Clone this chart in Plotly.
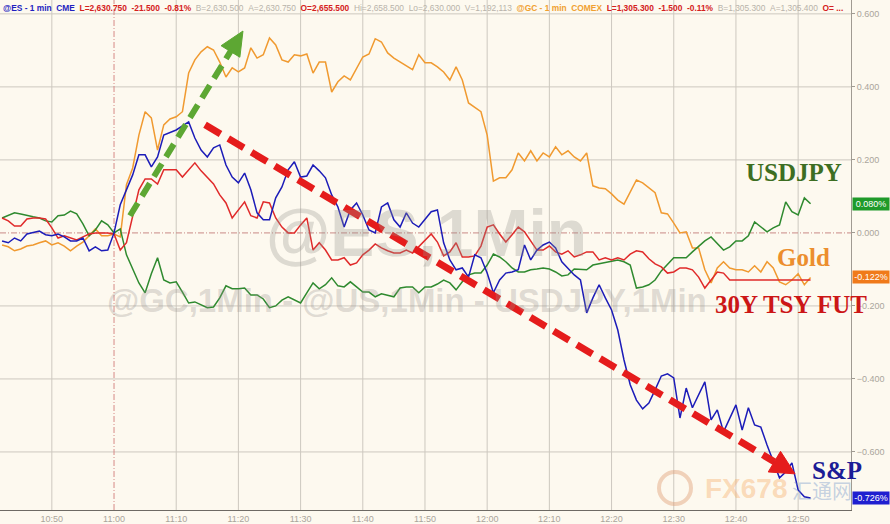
import pandas as pd
import plotly.graph_objects as go

DAY = "2018-02-05"
times = pd.date_range(f"{DAY} 10:42", periods=131, freq="min")

# % change since 11:00, one value per minute (10:42 .. 12:52)
SP = [-0.022, -0.027, -0.014, -0.022, -0.003, 0.000, 0.005, -0.005, -0.008, -0.003, -0.011, -0.022, -0.022, -0.014, -0.049, -0.038, -0.049, -0.047,
      0.000, 0.077, 0.118, 0.159, 0.214, 0.214, 0.181, 0.208, 0.268, 0.274, 0.282, 0.293, 0.304,
      0.260, 0.227, 0.208, 0.233, 0.241, 0.186, 0.153, 0.137, 0.164, 0.118, 0.055, 0.036, 0.036, 0.096, 0.126, 0.173, 0.195, 0.153,
      0.156, 0.186, 0.170, 0.151, 0.104, 0.071, 0.016, 0.063, 0.082, 0.049, 0.008, 0.000, 0.071, 0.082, 0.036, 0.016, 0.055, 0.027, 0.016, 0.036,
      0.058, 0.063, -0.027, -0.074, -0.101, -0.096, -0.121, -0.060, -0.068, -0.110, -0.164, -0.129, -0.110, -0.107, -0.101, -0.033, -0.074, -0.047, -0.033, -0.025,
      -0.041, -0.079, -0.096, -0.115, -0.129, -0.219, -0.178, -0.142, -0.178, -0.211, -0.266, -0.348, -0.416, -0.458, -0.482, -0.466, -0.430, -0.392, -0.386, -0.397,
      -0.507, -0.425, -0.479, -0.444, -0.408, -0.512, -0.485, -0.545, -0.507, -0.471, -0.540, -0.479, -0.526, -0.532, -0.581, -0.627, -0.671, -0.655, -0.630, -0.704, -0.723, -0.726]

GOLD = [-0.033, -0.038, -0.049, -0.044, -0.036, -0.033, -0.027, -0.022, -0.033, -0.027, -0.036, -0.049, -0.036, -0.025, -0.008, 0.011, -0.008, -0.008,
        -0.003, -0.011, 0.132, 0.178, 0.268, 0.332, 0.315, 0.227, 0.296, 0.312, 0.318, 0.332, 0.438,
        0.474, 0.496, 0.510, 0.501, 0.468, 0.427, 0.452, 0.441, 0.452, 0.507, 0.479, 0.488, 0.534, 0.515, 0.474, 0.468, 0.488, 0.485,
        0.490, 0.438, 0.468, 0.468, 0.386, 0.414, 0.430, 0.419, 0.452, 0.482, 0.490, 0.532, 0.523, 0.493, 0.479, 0.468, 0.458, 0.447, 0.488, 0.466,
        0.466, 0.455, 0.441, 0.419, 0.455, 0.419, 0.356, 0.345, 0.332, 0.268, 0.142, 0.151, 0.151, 0.173, 0.219, 0.197, 0.225, 0.197, 0.219, 0.208,
        0.236, 0.214, 0.225, 0.208, 0.197, 0.219, 0.129, 0.123, 0.121, 0.107, 0.090, 0.079, 0.112, 0.145, 0.137, 0.123, 0.110, 0.055, 0.052, 0.027,
        0.000, 0.003, -0.041, -0.041, -0.101, -0.137, -0.096, -0.079, -0.096, -0.101, -0.101, -0.107, -0.090, -0.107, -0.079, -0.096, -0.134, -0.142, -0.129, -0.112, -0.142, -0.122]

TSY = [0.041, 0.033, 0.019, 0.019, 0.038, 0.041, 0.041, 0.038, 0.014, -0.014, -0.008, -0.014, -0.019, -0.011, -0.003, 0.000, 0.000, 0.000,
       -0.003, -0.047, -0.027, 0.044, 0.118, 0.148, 0.148, 0.134, 0.173, 0.173, 0.173, 0.153, 0.173,
       0.192, 0.170, 0.151, 0.134, 0.104, 0.082, 0.041, 0.063, 0.085, 0.047, 0.041, 0.085, 0.082, 0.041, 0.016, 0.000, 0.000, 0.022,
       0.041, -0.047, -0.027, -0.047, -0.074, -0.074, -0.068, -0.088, -0.082, -0.060, -0.047, -0.030, -0.041, -0.049, -0.055, -0.055, -0.047, -0.055, -0.038, -0.019,
       -0.003, -0.025, -0.063, -0.052, -0.027, -0.066, -0.066, -0.063, -0.036, 0.016, 0.022, -0.003, -0.025, -0.005, 0.016, 0.003, -0.022, -0.047, -0.047, -0.036,
       -0.052, -0.058, -0.049, -0.066, -0.060, -0.052, -0.052, -0.074, -0.068, -0.074, -0.068, -0.074, -0.058, -0.049, -0.052, -0.071, -0.085, -0.093, -0.110, -0.107,
       -0.096, -0.096, -0.101, -0.121, -0.151, -0.129, -0.107, -0.110, -0.129, -0.129, -0.129, -0.129, -0.129, -0.129, -0.129, -0.129, -0.129, -0.129, -0.129, -0.129, -0.129, -0.129]

USDJPY = [0.041, 0.049, 0.055, 0.052, 0.047, 0.044, 0.041, 0.033, 0.030, 0.047, 0.049, 0.060, 0.052, 0.025, -0.008, 0.008, 0.033, 0.022,
          0.000, 0.011, -0.060, -0.101, -0.137, -0.164, -0.112, -0.068, -0.129, -0.137, -0.134, -0.162, -0.192,
          -0.189, -0.197, -0.205, -0.203, -0.178, -0.145, -0.153, -0.153, -0.151, -0.170, -0.170, -0.181, -0.205, -0.200, -0.184, -0.175, -0.184, -0.192,
          -0.164, -0.137, -0.153, -0.142, -0.123, -0.145, -0.148, -0.134, -0.148, -0.162, -0.162, -0.175, -0.167, -0.170, -0.175, -0.151, -0.148, -0.148, -0.164, -0.148,
          -0.148, -0.140, -0.129, -0.137, -0.156, -0.134, -0.115, -0.110, -0.110, -0.088, -0.058, -0.066, -0.079, -0.096, -0.107, -0.107, -0.101, -0.099, -0.096, -0.099,
          -0.107, -0.118, -0.115, -0.099, -0.099, -0.101, -0.088, -0.085, -0.082, -0.079, -0.074, -0.079, -0.088, -0.151, -0.148, -0.142, -0.129, -0.104, -0.085, -0.068,
          -0.068, -0.068, -0.052, -0.038, -0.022, -0.011, -0.030, -0.047, -0.038, -0.022, -0.022, -0.008, 0.030, 0.016, 0.003, 0.014, 0.022, 0.085, 0.058, 0.049, 0.096, 0.080]

Y_TICKS = [-0.6, -0.4, -0.2, 0.0, 0.2, 0.4, 0.6]
X_TICKS = list(pd.date_range(f"{DAY} 10:50", f"{DAY} 12:50", freq="10min"))
EVENT_TIME = pd.Timestamp(f"{DAY} 11:00")
X_RANGE = [pd.Timestamp(f"{DAY} 10:41:40"), pd.Timestamp(f"{DAY} 12:58:30")]
Y_RANGE = [-0.759, 0.638]

# trend arrows (start, tip) in data units
GREEN_ARROW = ((pd.Timestamp(f"{DAY} 11:02:34"), 0.047), (pd.Timestamp(f"{DAY} 11:20:44"), 0.553))
RED_ARROW = ((pd.Timestamp(f"{DAY} 11:14:38"), 0.296), (pd.Timestamp(f"{DAY} 12:49:30"), -0.660))

HEADER = [
    ("@ES - 1 min", "#1f1fc0", True), ("CME", "#1f1fc0", True),
    ("L=2,630.750", "#d42020", True), ("-21.500", "#d42020", True), ("-0.81%", "#d42020", True),
    ("B=2,630.500", "#b8b3aa", False), ("A=2,630.750", "#b8b3aa", False),
    ("O=2,655.500", "#d42020", True), ("Hi=2,658.500", "#b8b3aa", False),
    ("Lo=2,630.000", "#b8b3aa", False), ("V=1,192,113", "#b8b3aa", False),
    ("@GC - 1 min", "#f0a030", True), ("COMEX", "#f0a030", True),
    ("L=1,305.300", "#d42020", True), ("-1.500", "#d42020", True), ("-0.11%", "#d42020", True),
    ("B=1,305.300", "#b8b3aa", False), ("A=1,305.400", "#b8b3aa", False),
    ("O= ...", "#d42020", True),
]

BG = "#fdf9ef"
GRID = "#cdc8bf"

C_SP = "#1c1cb8"
C_GOLD = "#f09a30"
C_TSY = "#e02a2a"
C_JPY = "#2f8a2f"

fig = go.Figure()
for vals, col in [(GOLD, C_GOLD), (USDJPY, C_JPY), (TSY, C_TSY), (SP, C_SP)]:
    fig.add_trace(go.Scatter(x=times, y=vals, mode="lines",
                             line=dict(color=col, width=1.5), hoverinfo="skip"))

shapes = []
# gridlines
for t in X_TICKS:
    if t == EVENT_TIME:
        continue
    shapes.append(dict(type="line", xref="x", yref="paper", x0=t, x1=t, y0=0, y1=1,
                       line=dict(color=GRID, width=1), layer="below"))
for v in Y_TICKS:
    if v == 0:
        continue
    shapes.append(dict(type="line", xref="paper", yref="y", x0=0, x1=1, y0=v, y1=v,
                       line=dict(color=GRID, width=1), layer="below"))
# zero line and event line (dash-dot)
shapes.append(dict(type="line", xref="paper", yref="y", x0=0, x1=1, y0=0, y1=0,
                   line=dict(color="#c98a86", width=1, dash="6px,2px,1px,2px"), layer="below"))
shapes.append(dict(type="line", xref="x", yref="paper", x0=EVENT_TIME, x1=EVENT_TIME, y0=0, y1=1,
                   line=dict(color="#d68a86", width=1, dash="6px,2px,1px,2px"), layer="below"))


def arrow(start, tip, color, width, dash, head_len, head_half, frac):
    (t0, v0), (t1, v1) = start, tip
    te = t0 + (t1 - t0) * frac
    ve = v0 + (v1 - v0) * frac
    shapes.append(dict(type="line", xref="x", yref="y", x0=t0, y0=v0, x1=te, y1=ve,
                       line=dict(color=color, width=width, dash=dash)))
    pxmin = 851 / ((X_RANGE[1] - X_RANGE[0]).total_seconds() / 60)
    pxval = 510 / (Y_RANGE[1] - Y_RANGE[0])
    dx = (t1 - t0).total_seconds() / 60 * pxmin
    dy = (v1 - v0) * pxval
    ln = (dx * dx + dy * dy) ** 0.5
    ux, uy = dx / ln, dy / ln
    px, py = -uy, ux
    bx, by = -head_len * ux, -head_len * uy
    p1 = (bx + head_half * px, by + head_half * py)
    p2 = (bx - head_half * px, by - head_half * py)
    path = f"M 0 0 L {p1[0]:.1f} {p1[1]:.1f} L {p2[0]:.1f} {p2[1]:.1f} Z"
    shapes.append(dict(type="path", xref="x", yref="y", xsizemode="pixel", ysizemode="pixel",
                       xanchor=t1, yanchor=v1, path=path,
                       fillcolor=color, line=dict(color=color, width=1)))


arrow(*GREEN_ARROW, "#5da733", 6, "15px,8px", 24, 11, 0.9)
arrow(*RED_ARROW, "#e51c1c", 7, "18px,9px", 24, 12, 0.965)

# FX678 logo ring
shapes.append(dict(type="circle", xref="paper", yref="paper",
                   x0=659 / 851, x1=691 / 851, y0=1 - 504 / 510, y1=1 - 472 / 510,
                   line=dict(color="rgba(225,160,120,0.45)", width=4)))

annotations = []


def text(t, x, y, font, xanchor="center", yanchor="middle", **kw):
    annotations.append(dict(text=t, xref=kw.pop("xref", "paper"), yref=kw.pop("yref", "paper"),
                            x=x, y=y, xanchor=xanchor, yanchor=yanchor, showarrow=False,
                            font=font, **kw))


# watermarks
text("<b>@ES,1Min</b>", 426 / 851, 1 - 233 / 510,
     dict(family="Arial", size=66, color="rgba(150,145,140,0.30)"))
text("<b>@GC,1Min - @US,1Min - USDJPY,1Min</b>", 105 / 851, 1 - 300 / 510,
     dict(family="Arial", size=33, color="rgba(150,145,140,0.30)"), xanchor="left")
text("<b>FX678</b>", 746 / 851, 1 - 488 / 510,
     dict(family="Arial", size=28, color="rgba(245,170,100,0.40)"))
text("汇通网", 822 / 851, 1 - 490 / 510,
     dict(family="Noto Sans CJK SC", size=20, color="rgba(110,145,200,0.40)"))

# series labels
labels = [("USDJPY", "#3d6e22", 794, 172), ("Gold", "#ec8e2e", 803, 257),
          ("30Y TSY FUT", "#cc1616", 791, 304), ("S&P", "#1c1c96", 837, 470)]
for txt, col, cx, cy in labels:
    text(f"<b>{txt}</b>", cx / 851, 1 - cy / 510,
         dict(family="Liberation Serif", size=25, color=col))

# value badges
badges = [(USDJPY[-1], "#1f9a2a"), (GOLD[-1], "#f07a1a"), (SP[-1], "#1f1fd0")]
for val, col in badges:
    text(f"{val:.3f}%", 1, val, dict(family="Arial", size=9, color="white"),
         xanchor="left", yref="y", xshift=1, bgcolor=col, borderpad=1, width=34)

# header
sep = "\u00a0\u00a0"
hdr = sep.join(
    (f"<b>{t}</b>" if b else t).join([f"<span style='color:{c}'>", "</span>"]) for t, c, b in HEADER
)
text(hdr, 0, 1, dict(family="Arial", size=8.4), xanchor="left", yanchor="top", xshift=1, yshift=-1)

fig.update_layout(
    width=890, height=524,
    margin=dict(l=0, r=39, t=0, b=14),
    paper_bgcolor=BG, plot_bgcolor=BG,
    showlegend=False,
    shapes=shapes, annotations=annotations,
    xaxis=dict(range=X_RANGE, type="date", tickvals=X_TICKS, tickformat="%H:%M",
               showgrid=False, zeroline=False, showline=True, linecolor="#6e6a64", linewidth=1,
               ticks="", tickfont=dict(family="Arial", size=9, color="#aaa59c")),
    yaxis=dict(range=Y_RANGE, side="right", tickvals=Y_TICKS, tickformat=".3f", ticksuffix="%",
               showgrid=False, zeroline=False, showline=True, linecolor="#a09b92", linewidth=1,
               ticks="outside", ticklen=3, tickcolor="#a09b92",
               tickfont=dict(family="Arial", size=9, color="#aaa59c")),
)

fig.write_html("out.html", config={"displayModeBar": False})

# remove the browser's default page margin so the figure sits at the window's top-left
with open("out.html", encoding="utf-8") as f:
    html = f.read()
html = html.replace("<body>", "<body style=\"margin:0;padding:0;overflow:hidden;background:%s\">" % BG, 1)
with open("out.html", "w", encoding="utf-8") as f:
    f.write(html)
